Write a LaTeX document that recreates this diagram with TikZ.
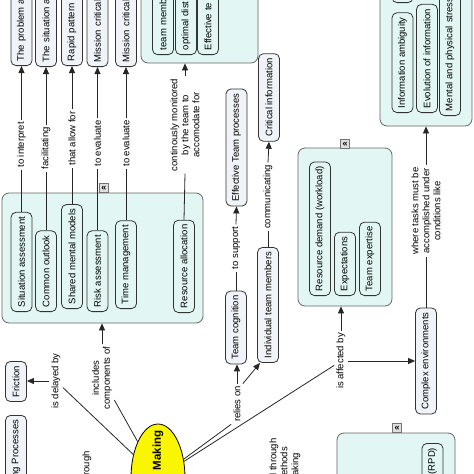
\documentclass[tikz,border=0pt]{standalone}
\usepackage{fontspec}
\setmainfont{Liberation Sans}
\usepackage{xcolor}
\definecolor{colorGroup}{RGB}{226,247,243}
\definecolor{colorConcept}{RGB}{240,244,248}
\definecolor{colorMain}{RGB}{250,245,0}
\colorlet{colorLine}{black!85}
\usepackage{tikz}
\usetikzlibrary{arrows.meta, positioning, shapes.geometric}
\tikzset{cutbox/.style={text width=#1, align=left}}

\begin{document}
\begin{tikzpicture}[x=1pt, y=-1pt, >={Triangle[length=7pt,width=6pt]}, line width=0.8pt,
  concept/.style={draw=black!80, fill=colorConcept, rounded corners=5pt, rotate=90, minimum height=21pt, inner xsep=4.5pt, font=\fontsize{9.5}{11}\selectfont},
  innerbox/.style={concept, fill=colorGroup},
  groupbox/.style={draw=black!60, fill=colorGroup, rounded corners=7pt},
  linkphrase/.style={rotate=90, inner sep=2pt, align=center, font=\fontsize{9.5}{11}\selectfont},
  toggle/.style={draw=black!55, fill=black!12, minimum size=9.5pt, inner sep=0pt, line width=0.6pt, font=\bfseries\fontsize{9}{9}\selectfont}]
\useasboundingbox (0,0) rectangle (474,474);
\clip (0,0) rectangle (474,474);

% groups
\node[groupbox, minimum width=201pt, minimum height=130pt] (grpskills) at (102.5,258) {};
\node[groupbox, minimum width=117pt, minimum height=103pt] (grpteam) at (199.5,11.5) {};
\node[groupbox, minimum width=94pt, minimum height=158pt] (grpdemand) at (345,227) {};
\node[groupbox, minimum width=92pt, minimum height=166pt] (grpcond) at (426,43) {};
\node[groupbox, minimum width=118pt, minimum height=87pt] (grprpd) at (396,476.5) {};
\node[toggle] (tglskills) at (104,188) {«};
\node[toggle] (tgldemand) at (345,144) {«};
\node[toggle] (tglrpd) at (397,428) {«};

% top row
\node[concept, cutbox=100pt, anchor=west] (problem) at (21.5,66) {The problem a};
\node[concept, cutbox=100pt, anchor=west] (situation) at (46,67) {The situation a};
\node[concept, cutbox=100pt, anchor=west] (pattern) at (72,66) {Rapid pattern};
\node[concept, cutbox=100pt, anchor=west] (critical1) at (97.5,67) {Mission critical};
\node[concept, cutbox=100pt, anchor=west] (critical2) at (126,67) {Mission critical};
\node[innerbox, cutbox=60pt, anchor=west] (teammem) at (163,55) {team memb};
\node[innerbox, cutbox=60pt, anchor=west] (optdist) at (186,55) {optimal dist};
\node[innerbox, cutbox=60pt, anchor=west] (effte) at (208,55) {Effective te};

% skills group
\node[innerbox, anchor=west] (sitass) at (21.5,312) {Situation assessment};
\node[innerbox, anchor=west] (outlook) at (46,312) {Common outlook};
\node[innerbox, anchor=west] (mental) at (72,309) {Shared mental models};
\node[innerbox, anchor=west] (risk) at (97.5,312) {Risk assessment};
\node[innerbox, anchor=west] (timemgmt) at (126,309) {Time management};
\node[innerbox, anchor=west] (resalloc) at (184,313) {Resource allocation};

\node[linkphrase, anchor=west] (lblinterp) at (21.5,170) {to interpret};
\node[linkphrase, anchor=west] (lblfacil) at (46,172) {facilitating};
\node[linkphrase, anchor=west] (lblallow) at (72,168) {that allow for};
\node[linkphrase, anchor=west] (lbleval1) at (97.5,169) {to evaluate};
\node[linkphrase, anchor=west] (lbleval2) at (126,169) {to evaluate};
\node[linkphrase] (lblmonitor) at (185,125) {continously monitored\\by the team to\\accomodate for};

\draw[colorLine] (sitass.east) -- (lblinterp.west);
\draw[colorLine, ->] (lblinterp.east) -- (problem.west);
\draw[colorLine] (outlook.east) -- (lblfacil.west);
\draw[colorLine, ->] (lblfacil.east) -- (situation.west);
\draw[colorLine] (mental.east) -- (lblallow.west);
\draw[colorLine, ->] (lblallow.east) -- (pattern.west);
\draw[colorLine] (risk.east) -- (lbleval1.west);
\draw[colorLine, ->] (lbleval1.east) -- (critical1.west);
\draw[colorLine] (timemgmt.east) -- (lbleval2.west);
\draw[colorLine, ->] (lbleval2.east) -- (critical2.west);
\draw[colorLine] (resalloc.east) -- (lblmonitor.west);
\draw[colorLine, ->] (lblmonitor.east) -- (lblmonitor.east |- grpteam.south);

% team column
\node[concept] (efftp) at (236.5,147.5) {Effective Team processes};
\node[concept] (critinfo) at (269,97.5) {Critical information};
\node[concept] (teamcog) at (236,327.5) {Team cognition};
\node[concept] (indiv) at (268,305) {Individual team members};
\node[linkphrase] (lblsupport) at (236,248) {to support};
\node[linkphrase] (lblcomm) at (268,197) {communicating};
\node[linkphrase] (lblrelies) at (237,404) {relies on};
\draw[colorLine] (teamcog.east) -- (lblsupport.west);
\draw[colorLine, ->] (lblsupport.east) -- (efftp.west);
\draw[colorLine] (indiv.east) -- (lblcomm.west);
\draw[colorLine, ->] (lblcomm.east) -- (critinfo.west);
\draw[colorLine, ->] (lblrelies.east) -- (lblrelies.east |- teamcog.west);
\draw[colorLine, ->] (lblrelies.south east) -- ([xshift=-8pt]indiv.west);

% demand and conditions
\node[innerbox, anchor=west] (resdemand) at (320,296) {Resource demand (workload)};
\node[innerbox, anchor=west] (expect) at (345,296) {Expectations};
\node[innerbox, anchor=west] (expertise) at (370,296) {Team expertise};
\node[innerbox, minimum width=30pt, anchor=west] (condhidden) at (402.5,3) {};
\node[innerbox, anchor=west] (infoamb) at (402.5,113) {Information ambiguity};
\node[innerbox, anchor=west] (evolinfo) at (427,113) {Evolution of information};
\node[innerbox, cutbox=130pt, anchor=west] (stress) at (450,116) {Mental and physical stress};
\node[innerbox, text width=60pt, align=right, anchor=east] (rpd) at (432.5,443) {(RPD)};
\node[concept] (complexenv) at (426,361) {Complex environments};
\node[linkphrase] (lblaffect) at (341,361) {is affected by};
\node[linkphrase] (lblwhere) at (426,211) {where tasks must be\\accomplished under\\conditions like};
\draw[colorLine, ->] (lblaffect.east) -- (lblaffect.east |- grpdemand.south);
\draw[colorLine, ->] (lblaffect.south) -- (lblaffect.south -| complexenv.north);
\draw[colorLine] (complexenv.east) -- (lblwhere.west);
\draw[colorLine, ->] (lblwhere.east) -- (lblwhere.east |- grpcond.south);

% bottom left
\node[concept] (friction) at (16,381.5) {Friction};
\node[concept, text width=80pt, align=right, anchor=east] (procs) at (16,415) {ng Processes};
\node[linkphrase] (lbldelay) at (56,381) {is delayed by};
\node[linkphrase] (lblincl) at (102,378) {includes\\components of};
\node[linkphrase, align=left, anchor=west, inner sep=0pt] (lblthrough) at (87,476) {rough};
\node[linkphrase, align=left, anchor=west, inner sep=0pt] (lblmethods) at (285,476) {l through\\ethods\\aking};
\draw[colorLine, ->] (lbldelay.north) -- (lbldelay.north -| friction.south);
\draw[colorLine, ->] (lblincl.east) -- (lblincl.east |- grpskills.south);

% main concept
\node[ellipse, draw=black, fill=colorMain, minimum width=54pt, minimum height=108pt] (making) at (158,478) {};
\node[rotate=90, anchor=east, inner sep=0pt, font=\bfseries\fontsize{11.5}{12}\selectfont] (makingtxt) at (158,430) {Making};
\draw[colorLine] (making) -- (lbldelay);
\draw[colorLine] (making) -- (lblincl);
\draw[colorLine] (making) -- (lblrelies.north west);
\draw[colorLine] (making) -- (lblaffect);
\end{tikzpicture}
\end{document}
